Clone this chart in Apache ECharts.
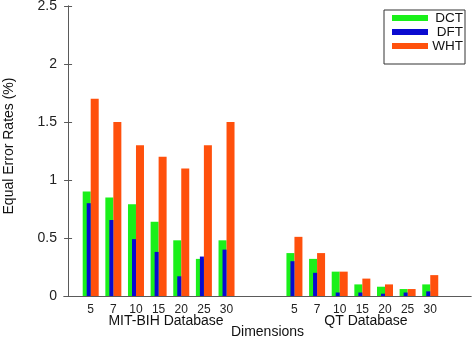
<!DOCTYPE html>
<html>
<head>
<meta charset="utf-8">
<script src="https://cdn.jsdelivr.net/npm/echarts@6/dist/echarts.min.js"></script>
<style>
html,body{margin:0;padding:0;background:#fff;}
#c{width:474px;height:337px;}
</style>
</head>
<body>
<div id="c"></div>
<script>
// ---- data ----
const dims = ['5', '7', '10', '15', '20', '25', '30'];
const groupNames = ['MIT-BIH Database', 'QT Database'];
const seriesNames = ['DCT', 'DFT', 'WHT'];
const mitDCT = [0.90, 0.85, 0.79, 0.64, 0.48, 0.32, 0.48];
const mitDFT = [0.80, 0.655, 0.49, 0.38, 0.17, 0.34, 0.40];
const mitWHT = [1.70, 1.50, 1.30, 1.20, 1.10, 1.30, 1.50];
const qtDCT = [0.37, 0.32, 0.21, 0.10, 0.08, 0.06, 0.10];
const qtDFT = [0.30, 0.20, 0.03, 0.03, 0.02, 0.03, 0.04];
const qtWHT = [0.51, 0.37, 0.21, 0.15, 0.10, 0.06, 0.18];
const yTicks = ['0', '0.5', '1', '1.5', '2', '2.5'];

// group index -> x slot offset (group 2 after a gap of 2 empty slots)
const groupStart = [1, 10];
function build(a, b) {
  return a.map((v, i) => [groupStart[0] + i, v])
    .concat(b.map((v, i) => [groupStart[1] + i, v]));
}
const xVals = dims.map((d, i) => groupStart[0] + i).concat(dims.map((d, i) => groupStart[1] + i));
function xLabel(v) {
  const idx = v >= groupStart[1] ? v - groupStart[1] : v - groupStart[0];
  return dims[Math.round(idx)] || '';
}

const FONT = '"Liberation Sans", Arial, sans-serif';
const AX = '#5a5a5a';
const colors = { DCT: '#1af01a', DFT: '#0a0ad0', WHT: '#ff500c' };

const chart = echarts.init(document.getElementById('c'), null, { renderer: 'canvas' });
chart.setOption({
  animation: false,
  textStyle: { fontFamily: FONT },
  grid: { left: 64, right: 3, top: 6, bottom: 41, containLabel: false, outerBoundsMode: 'none' },
  legend: {
    data: seriesNames,
    orient: 'vertical',
    left: 384,
    top: 10,
    padding: [1, 2, 11, 8],
    itemWidth: 36,
    itemHeight: 6,
    itemGap: 0,
    icon: 'rect',
    borderColor: '#333',
    borderWidth: 1,
    backgroundColor: '#fff',
    formatter: '{r|{name}}',
    textStyle: {
      color: '#111',
      fontFamily: FONT,
      rich: { r: { width: 30, align: 'right', fontSize: 13.5, lineHeight: 14, fontFamily: FONT, color: '#111' } }
    }
  },
  xAxis: [
    {
      type: 'value', min: -0.18, max: 17.8, position: 'bottom',
      axisLine: { show: true, lineStyle: { color: AX, width: 1 } },
      axisTick: { show: false },
      splitLine: { show: false },
      axisLabel: {
        customValues: xVals,
        formatter: xLabel,
        fontSize: 12, color: '#222', margin: 8, fontFamily: FONT
      },
      name: 'Dimensions', nameLocation: 'middle', nameGap: 29,
      nameTextStyle: { fontSize: 14, color: '#111', fontFamily: FONT }
    },
    {
      type: 'value', min: -0.18, max: 17.8, position: 'top',
      axisLine: { show: true, lineStyle: { color: AX, width: 1 } },
      axisTick: { show: false }, axisLabel: { show: false }, splitLine: { show: false }
    }
  ],
  yAxis: [
    {
      type: 'value', min: 0, max: 2.5, interval: 0.5, position: 'left',
      axisLine: { show: true, lineStyle: { color: AX, width: 1 } },
      axisTick: { show: true, inside: true, length: 4, lineStyle: { color: AX } },
      splitLine: { show: false },
      axisLabel: {
        fontSize: 14, color: '#222', margin: 7, fontFamily: FONT,
        formatter: v => yTicks[Math.round(v / 0.5)]
      }
    },
    {
      type: 'value', min: 0, max: 2.5, interval: 0.5, position: 'right',
      axisLine: { show: true, lineStyle: { color: AX, width: 1 } },
      axisTick: { show: true, inside: true, length: 4, lineStyle: { color: AX } },
      splitLine: { show: false }, axisLabel: { show: false }
    }
  ],
  series: [
    { name: 'DCT', type: 'bar', xAxisIndex: 0, yAxisIndex: 0, barWidth: 8, barGap: '0%',
      itemStyle: { color: colors.DCT }, data: build(mitDCT, qtDCT) },
    { name: 'WHT', type: 'bar', xAxisIndex: 0, yAxisIndex: 0, barWidth: 8, barGap: '0%',
      itemStyle: { color: colors.WHT }, data: build(mitWHT, qtWHT) },
    { name: 'DFT', type: 'bar', xAxisIndex: 1, yAxisIndex: 0, barWidth: 4, barGap: '0%',
      itemStyle: { color: colors.DFT }, data: build(mitDFT, qtDFT) },
    { name: '_pad', type: 'bar', xAxisIndex: 1, yAxisIndex: 0, barWidth: 4, barGap: '0%',
      silent: true, itemStyle: { color: 'rgba(0,0,0,0)' },
      data: build(mitDFT.map(() => 0), qtDFT.map(() => 0)) }
  ],
  graphic: [
    { type: 'text', x: 166, y: 321,
      style: { text: groupNames[0], font: '14px ' + FONT, fill: '#111', textAlign: 'center', textVerticalAlign: 'middle' } },
    { type: 'text', x: 366, y: 321,
      style: { text: groupNames[1], font: '14px ' + FONT, fill: '#111', textAlign: 'center', textVerticalAlign: 'middle' } },
    { type: 'text', x: 9, y: 146, rotation: Math.PI / 2,
      style: { text: 'Equal Error Rates (%)', font: '14px ' + FONT, fill: '#111', textAlign: 'center', textVerticalAlign: 'middle' } }
  ]
});
</script>
</body>
</html>
